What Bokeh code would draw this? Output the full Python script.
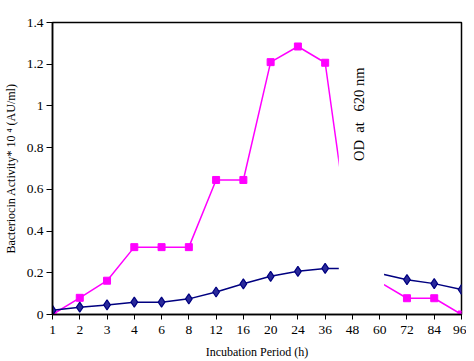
import math
from bokeh.plotting import figure
from bokeh.models import FixedTicker, BoxAnnotation, Label, Range1d
from bokeh.embed import file_html
from bokeh.resources import INLINE

categories = ["1", "2", "3", "4", "6", "8", "12", "16", "20", "24", "36", "48", "60", "72", "84", "96"]
od_620 = [0.02, 0.035, 0.046, 0.059, 0.059, 0.075, 0.108, 0.147, 0.183, 0.207, 0.221, 0.22, 0.197, 0.167, 0.148, 0.12]
bacteriocin = [0.0, 0.08, 0.162, 0.323, 0.323, 0.323, 0.645, 0.645, 1.21, 1.285, 1.207, 0.27, 0.155, 0.078, 0.078, 0.0]
y_ticks = [0, 0.2, 0.4, 0.6, 0.8, 1.0, 1.2, 1.4]
y_tick_labels = ["0", "0.2", "0.4", "0.6", "0.8", "1", "1.2", "1.4"]

xs = list(range(len(categories)))
FONT = "Liberation Serif"

p = figure(width=466, height=361, output_backend="svg", toolbar_location=None,
           x_range=Range1d(0, len(categories) - 1), y_range=Range1d(0, 1.4),
           min_border_left=44, min_border_right=5, min_border_top=22, min_border_bottom=43)

p.background_fill_color = "white"
p.border_fill_color = "white"
p.outline_line_color = "black"
p.outline_line_width = 1.5
p.grid.visible = False

p.line(xs, bacteriocin, line_color="#FF00FF", line_width=1.5)
p.scatter(xs, bacteriocin, marker="square", size=7, fill_color="#FF00FF", line_color="#FF00FF")
p.line(xs, od_620, line_color="#000080", line_width=1.5)
p.scatter(xs, od_620, marker="diamond", size=10, fill_color="#2a2a9a", line_color="#000080", line_width=1.2)

# text box that hides part of the lines
box = BoxAnnotation(left=10.5, right=12.16, bottom=0.03, top=1.3,
                    fill_color="white", fill_alpha=1.0, line_alpha=0)
p.add_layout(box)
p.add_layout(Label(x=11.25, y=0.96, text="OD\u00a0\u00a0at\u00a0\u00a0\u00a0620\u00a0nm", angle=math.pi / 2,
                   text_align="center", text_baseline="middle",
                   text_font=FONT, text_font_size="14.5px", text_color="black"))

xa = p.xaxis[0]
xa.ticker = FixedTicker(ticks=xs)
xa.major_label_overrides = {i: c for i, c in enumerate(categories)}
xa.axis_label = "Incubation Period (h)"
ya = p.yaxis[0]
ya.ticker = FixedTicker(ticks=y_ticks)
ya.major_label_overrides = {t: l for t, l in zip(y_ticks, y_tick_labels)}
ya.axis_label = "Bacteriocin Activity* 10 \u2074 (AU/ml)"

for ax in (xa, ya):
    ax.axis_line_color = "black"
    ax.axis_line_width = 1.5
    ax.major_tick_line_color = "black"
    ax.major_tick_line_width = 1
    ax.major_tick_in = 0
    ax.minor_tick_line_color = None
    ax.major_label_text_font = FONT
    ax.major_label_text_font_size = "13.5px"
    ax.major_label_text_color = "black"
    ax.axis_label_text_font = FONT
    ax.axis_label_text_font_size = "12px"
    ax.axis_label_text_font_style = "normal"
    ax.axis_label_text_color = "black"

xa.major_tick_out = 5
xa.major_label_standoff = 6
xa.axis_label_standoff = 8
ya.major_tick_out = 6
ya.major_label_standoff = 3
ya.axis_label_standoff = 6

open("out.html", "w").write(file_html(p, INLINE))
